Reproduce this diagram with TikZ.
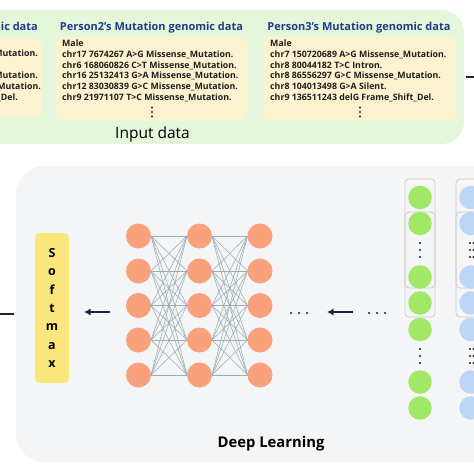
\documentclass[tikz,border=0pt]{standalone}
\usepackage{fontspec}
\setmainfont{Open Sans}
\usetikzlibrary{arrows.meta}
\definecolor{panelgreen}{HTML}{E5F7DB}
\definecolor{panelgrey}{HTML}{F4F5F6}
\definecolor{cream}{HTML}{FDF2CF}
\definecolor{hdrblue}{HTML}{1F3C8A}
\definecolor{datatext}{HTML}{1E1E1E}
\definecolor{softyellow}{HTML}{FBE67C}
\definecolor{nnorange}{HTML}{F8A17C}
\definecolor{nnline}{HTML}{9AADB2}
\definecolor{seqgreen}{HTML}{A0E865}
\definecolor{seqblue}{HTML}{BDD5F6}
\definecolor{boxgrey}{HTML}{CACACA}
\definecolor{arrowdark}{HTML}{1D2533}
\tikzset{
  hdr/.style={inner sep=0pt, text=hdrblue, font=\fontsize{11}{12}\selectfont\bfseries},
  dataline/.style={inner sep=0pt, anchor=base west, text=datatext, font=\fontsize{8.8}{10}\selectfont\bfseries},
  frag/.style={inner sep=0pt, anchor=base east, text=datatext, font=\fontsize{8.8}{10}\selectfont\bfseries},
  creambox/.style={fill=cream, rounded corners=8pt},
  dotmark/.style={fill=datatext, circle, inner sep=0pt, minimum size=2.4pt},
  neuron/.style={circle, fill=nnorange, minimum size=25pt, inner sep=0pt},
  nnedge/.style={draw=nnline, line width=0.55pt},
  gcell/.style={circle, fill=seqgreen, minimum size=23.5pt, inner sep=0pt},
  bcell/.style={circle, fill=seqblue, minimum size=23.5pt, inner sep=0pt},
  winbox/.style={draw=boxgrey, line width=0.8pt, rounded corners=4pt},
  flowarrow/.style={draw=arrowdark, line width=2pt, -{Latex[length=6.5pt,width=7pt]}},
  bigtext/.style={inner sep=0pt, text=black, font=\fontsize{15.5}{17}\selectfont},
}
\begin{document}
\begin{tikzpicture}[x=1pt,y=-1pt]
\useasboundingbox (0,0) rectangle (474,474);
\clip (0,0) rectangle (474,474);
% panels
\fill[panelgreen, rounded corners=22pt] (-40,10) rectangle (464,144);
\fill[panelgrey, rounded corners=28pt] (16,166) rectangle (530,462);
% cream boxes
\fill[creambox] (-20,38) rectangle (42,118);
\fill[creambox] (56,37) rectangle (247,120);
\fill[creambox] (263,37) rectangle (456,120);
% headers
\node[hdr, anchor=base east] (h1) at (38,30) {ic data};
\node[hdr, anchor=base] (h2) at (151.5,30) {Person2’s Mutation genomic data};
\node[hdr, anchor=base] (h3) at (359,30) {Person3’s Mutation genomic data};
% person1 fragments
\node[frag] (p1a) at (38,56.5) {Mutation.};
\node[frag] (p1b) at (38,78.5) {Mutation.};
\node[frag] (p1c) at (41,89.5) {Mutation.};
\node[frag] (p1d) at (18,100.5) {\_Del.};
% person2 lines
\foreach \t [count=\i] in {Male,chr17 7674267 A>G Missense\_Mutation.,chr6 168060826 C>T Missense\_Mutation.,chr16 25132413 G>A Missense\_Mutation.,chr12 83030839 G>C Missense\_Mutation.,chr9 21971107 T>C Missense\_Mutation.}
  \node[dataline] (p2l\i) at (62,{46.5+10.8*(\i-1)}) {\t};
% person3 lines
\foreach \t [count=\i] in {Male,chr7 150720689 A>G Missense\_Mutation.,chr8 80044182 T>C Intron.,chr8 86556297 G>C Missense\_Mutation.,chr8 104013498 G>A Silent.,chr9 136511243 delG Frame\_Shift\_Del.}
  \node[dataline] (p3l\i) at (270,{46.5+10.8*(\i-1)}) {\t};
% vertical dots
\foreach \y [count=\i] in {107.5,112,116.5} {
  \node[dotmark] (v2d\i) at (152,\y) {};
  \node[dotmark] (v3d\i) at (360,\y) {};
}
\node[bigtext, anchor=base] (inp) at (152.5,138.5) {Input data};
% arrow out of input panel
\coordinate (inA) at (466,77);
\coordinate (inB) at (486,77);
\draw[flowarrow] (inA) -- (inB);
% softmax
\node[fill=softyellow, rounded corners=5pt, minimum width=34pt, minimum height=150pt, inner sep=0pt,
      align=center, font=\fontsize{12.5}{18.3}\selectfont\bfseries] (soft) at (52,308) {S\\o\\f\\t\\m\\a\\x};
\coordinate (sfA) at (14,314);
\coordinate (sfB) at (-8,314);
\draw[flowarrow] (sfA) -- (sfB);
% neural network
\foreach \c/\x in {1/138.5,2/199.5,3/260}
  \foreach \r/\y in {1/236,2/271,3/305.5,4/340,5/375}
    \coordinate (c\c\r) at (\x,\y);
\foreach \i in {1,...,5}
  \foreach \j in {1,...,5} {
    \draw[nnedge] ([xshift=12.5pt]c1\i) -- ([xshift=-12.5pt]c2\j);
    \draw[nnedge] ([xshift=12.5pt]c2\i) -- ([xshift=-12.5pt]c3\j);
  }
\foreach \c in {1,2,3}
  \foreach \r in {1,...,5}
    \node[neuron] (n\c\r) at (c\c\r) {};
\coordinate (nnA) at (110,312);
\coordinate (nnB) at (84,312);
\draw[flowarrow] (nnA) -- (nnB);
% ellipsis and arrow
\foreach \x [count=\i] in {291,299,307} \node[dotmark] (e1\i) at (\x,313) {};
\foreach \x [count=\i] in {369,377,385} \node[dotmark] (e2\i) at (\x,313) {};
\coordinate (elA) at (353,312);
\coordinate (elB) at (327,312);
\draw[flowarrow] (elA) -- (elB);
% sequence columns
\draw[winbox] (405,179) rectangle (435,288);
\draw[winbox] (405,212) rectangle (435,317);
\draw[winbox] (456,179) rectangle (486,288);
\draw[winbox] (456,212) rectangle (486,317);
\foreach \y [count=\i] in {197.5,223.5,277,303,329.5,382,408} {
  \node[gcell] (g\i) at (420,\y) {};
  \node[bcell] (b\i) at (471,\y) {};
}
\foreach \y [count=\i] in {243,250,257,349,356,363} {
  \node[dotmark] (gd\i) at (420,\y) {};
  \node[dotmark] (bd\i) at (470,\y) {};
  \node[dotmark] (bdd\i) at (473.5,\y) {};
}
\node[bigtext, anchor=base, font=\fontsize{14.8}{16}\selectfont\bfseries] (dl) at (271,447.5) {Deep Learning};
\end{tikzpicture}
\end{document}
